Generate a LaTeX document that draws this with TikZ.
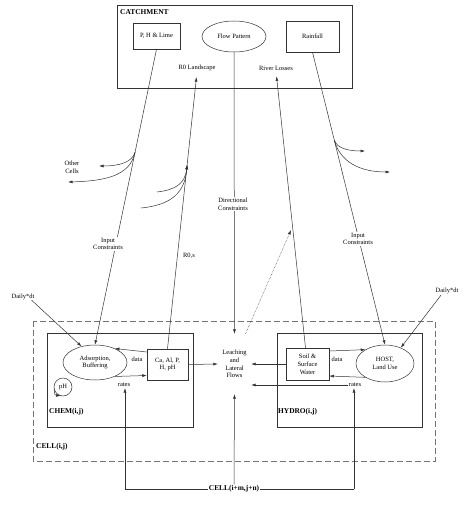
\documentclass[tikz,border=0pt]{standalone}
\usepackage{fontspec}
\setmainfont{Liberation Serif}
\usetikzlibrary{arrows.meta,calc,shapes.geometric}
\begin{document}
\begin{tikzpicture}[x=1pt,y=-1pt,
  every node/.style={font=\fontsize{6.5}{7.8}\selectfont, inner sep=1pt},
  ln/.style={draw=black!80, line width=0.5pt},
  arr/.style={ln, -{Latex[length=4.5pt,width=3pt]}},
  box/.style={draw=black!80, line width=0.5pt, rectangle, align=center, inner sep=0pt},
  ell/.style={draw=black!80, line width=0.5pt, ellipse, align=center, inner sep=0pt},
  bold/.style={font=\fontsize{7.4}{9}\selectfont\bfseries},
  lbl/.style={align=center, fill=white, inner sep=0.5pt}]
\useasboundingbox (0,0) rectangle (474,505);
% catchment
\draw[ln] (117,5) rectangle (352,88);
\node[bold, anchor=west] (catch) at (119,12) {CATCHMENT};
\node[box, minimum width=47, minimum height=26] (phl) at (156.5,36) {P, H \& Lime};
\node[ell, minimum width=64, minimum height=31] (flow) at (234,36.5) {Flow Pattern};
\node[box, minimum width=53, minimum height=31] (rain) at (312.5,36.5) {Rainfall};
\node (r0l) at (197,68) {R0 Landscape};
\node (riv) at (276,68) {River Losses};
% cell
\draw[draw=black!55, line width=0.8pt, dash pattern=on 6pt off 3pt] (33,321) rectangle (435,461);
\node[bold, anchor=west] (cellij) at (35,447) {CELL(i,j)};
\draw[ln] (47,333) rectangle (193,427);
\node[bold, anchor=west] (chem) at (48,412) {CHEM(i,j)};
\draw[ln] (277,333) rectangle (422,427);
\node[bold, anchor=west] (hydro) at (277,412) {HYDRO(i,j)};
\node[ell, minimum width=64, minimum height=35] (ads) at (95,362.5) {Adsorption,\\Buffering};
\node[draw=black!80, line width=0.5pt, circle, minimum size=18, inner sep=0pt] (ph) at (63,387) {pH};
\node[box, minimum width=41, minimum height=31] (ca) at (167.5,364.5) {Ca, Al, P,\\H, pH};
\node[align=center, minimum width=33, minimum height=60, inner sep=0pt] (leach) at (234.5,364) {Leaching\\and\\Lateral\\Flows};
\node[box, minimum width=43, minimum height=32] (soil) at (307.5,364) {Soil \&\\Surface\\Water};
\node[ell, minimum width=58, minimum height=37] (host) at (385,363.5) {HOST,\\Land Use};
\node (dataL) at (137,359) {data};
\node (ratesL) at (124,385) {rates};
\node (dataR) at (337,359) {data};
\node (ratesR) at (355,385) {rates};
\node (dl) at (23,297) {Daily*dt};
\node (dr) at (447,291) {Daily*dt};
\node[bold] (cellmn) at (234,489) {CELL(i+m,j+n)};
\node[align=center] (oc) at (72,167) {Other\\Cells};
% catchment links
\draw[arr] (phl.south) -- (ads.north) coordinate[pos=0.349] (j1);
\draw[arr, shorten >=5pt] (ca.north) -- (r0l.south) coordinate[pos=0.665] (j2);
\draw[arr, shorten >=5pt] ([xshift=-2pt]soil.north) -- (riv.south);
\draw[arr] (rain.south) -- (host.north) coordinate[pos=0.30] (j3);
\draw[arr] (flow.south) -- (leach.north);
\node[lbl] (dirc) at (233,204) {Directional\\Constraints};
\node[lbl] (inl) at (108,244) {Input\\Constraints};
\node[lbl] (inr) at (358,239) {Input\\Constraints};
\node (r0s) at (189,256) {R0,s};
% branching curves
\coordinate (oc1) at (99,166);
\coordinate (oc2) at (68,182);
\draw[arr] (j1) .. controls (132,162) and (120,166) .. (oc1);
\draw[arr] (j1) .. controls (130,176) and (105,181) .. (oc2);
\coordinate (in1) at (157,192);
\coordinate (in2) at (141,208);
\draw[arr] (in1) .. controls (175,190) and (185,184) .. (j2);
\draw[arr] (in2) .. controls (172,205) and (185,192) .. (j2);
\coordinate (out1) at (365,151);
\coordinate (out2) at (390,172);
\draw[arr] (j3) .. controls (337,149) and (350,151) .. (out1);
\draw[arr] (j3) .. controls (340,162) and (360,172) .. (out2);
\coordinate (dtip) at (291,230);
\draw[ln, densely dotted, -{Latex[length=4.5pt,width=3pt]}] (leach.70) -- (dtip);
% chem links
\draw[arr] ([yshift=12.5pt]ca.west) -- (ads.35);
\draw[arr] (ads.-35) -- ([yshift=-11pt]ca.west);
\draw[arr] (ca.east) -- (leach.west);
\draw[arr] ($(dl.south east)+(-4,-1)$) -- (ads.130);
\draw[arr] ($(ph.center)!1!(ph.195)$) .. controls ($(ph.center)!1.25!(ph.225)$) .. (ph.255);
% hydro links
\draw[arr] ([yshift=13pt]soil.east) -- (host.145);
\draw[arr] (host.215) -- ([yshift=-12pt]soil.east);
\draw[arr] (soil.west) -- (leach.east);
\draw[arr] (ratesR.west) -- (leach.east |- ratesR.west);
\draw[arr] ($(dr.south)+(-6,0)$) -- (host.45);
% bottom links
\coordinate (bl) at (125,489);
\coordinate (br) at (354,489);
\draw[ln] (cellmn.west) -- (bl);
\draw[arr] (bl) -- (bl |- ratesL.south);
\draw[ln] (cellmn.east) -- (br);
\draw[arr] (br) -- (br |- ratesR.south);
\draw[arr] (cellmn.north) -- (leach.south);
\end{tikzpicture}
\end{document}
